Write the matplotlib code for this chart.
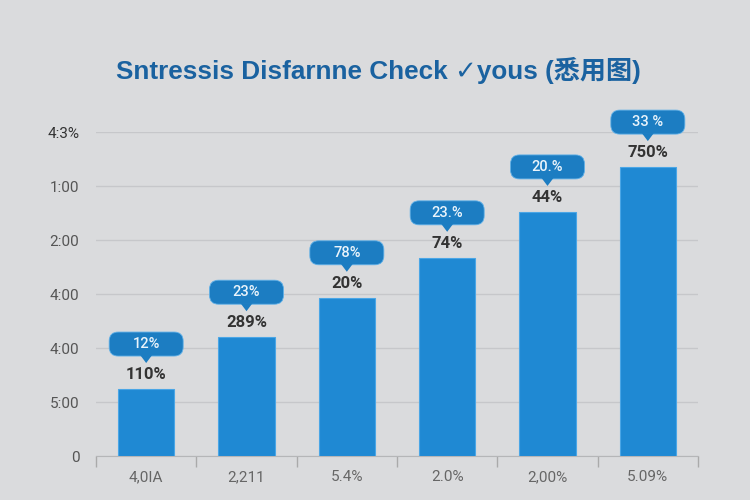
import matplotlib
matplotlib.use("Agg")
import matplotlib.pyplot as plt
from matplotlib import transforms
from matplotlib.patches import FancyBboxPatch, Polygon

# ---- data ----
categories = ["4,0IA", "2,211", "5.4%", "2.0%", "2,00%", "5.09%"]
values = [1.24, 2.20, 2.93, 3.67, 4.52, 5.35]
value_labels = ["110%", "289%", "20%", "74%", "44%", "750%"]
bubble_labels = ["12%", "23%", "78%", "23.%", "20.%", "33 %"]
ytick_vals = [0, 1, 2, 3, 4, 5, 6]
ytick_labels = ["0", "5:00", "4:00", "4:00", "2:00", "1:00", "4:3%"]
title = "Sntressis Disfarnne Check \u2713yous (悉用图)"

BG = "#dadbdd"
BAR = "#1f89d3"
BUBBLE = "#1c7dc2"

fig = plt.figure(figsize=(7.5, 5), dpi=100, facecolor=BG)
ax = fig.add_axes([96/750, 1-456/500, (698-96)/750, (456-132)/500])
ax.set_facecolor(BG)

x = list(range(len(categories)))
ax.bar(x, values, width=0.56, color=BAR, edgecolor="#4aa6e6", linewidth=0.8, zorder=3)

ax.set_xlim(-0.5, len(categories) - 0.5)
ax.set_ylim(0, 6)
ax.set_yticks(ytick_vals)
ax.set_yticklabels(ytick_labels)
ax.yaxis.grid(True, color="#c6c7ca", linewidth=1.0, zorder=0)
ax.tick_params(axis="y", length=0, pad=12, labelsize=11, labelcolor="#555555")
ax.get_yticklabels()[-1].set_color("#333333")

ax.set_xticks([i + 0.5 for i in range(-1, len(categories))], minor=True)
ax.set_xticks(x)
ax.set_xticklabels(categories)
ax.tick_params(axis="x", which="major", length=0, pad=10, labelsize=11, labelcolor="#666666")
ax.tick_params(axis="x", which="minor", length=8, width=1, color="#aaaaaa", direction="out")
for s in ["top", "right", "left"]:
    ax.spines[s].set_visible(False)
ax.spines["bottom"].set_color("#b5b6b8")

for label in ax.get_xticklabels() + ax.get_yticklabels():
    label.set_fontfamily(["Roboto", "DejaVu Sans"])

# labels and bubbles
bw, bh = 0.74, 0.24
for xi, v, vl, bl in zip(x, values, value_labels, bubble_labels):
    trans = fig.dpi_scale_trans + transforms.ScaledTranslation(xi, v, ax.transData)
    ax.text(0, 0.145, vl, transform=trans, ha="center", va="center",
            fontsize=12, fontweight="bold", color="#333333",
            family=["Roboto", "DejaVu Sans"], clip_on=False, zorder=5)
    cy = 0.45
    box = FancyBboxPatch((-bw/2, cy - bh/2), bw, bh,
                         boxstyle="round,pad=0,rounding_size=0.09",
                         transform=trans, facecolor=BUBBLE, edgecolor="#5fb0e8",
                         linewidth=0.6, clip_on=False, zorder=5)
    fig.add_artist(box)
    tri = Polygon([(-0.06, cy - bh/2 + 0.01), (0.06, cy - bh/2 + 0.01), (0, cy - bh/2 - 0.07)],
                  closed=True, transform=trans, facecolor=BUBBLE, edgecolor="none",
                  clip_on=False, zorder=6)
    fig.add_artist(tri)
    fig.text(0, cy, bl, transform=trans, ha="center", va="center",
             fontsize=10.5, fontweight="medium", color="#eaf4fb",
             family=["Roboto", "DejaVu Sans"], zorder=7)

fig.text(378/750, 1-70/500, title, ha="center", va="center", fontsize=18.8,
         fontweight="bold", color="#1a62a0",
         family=["Liberation Sans", "DejaVu Sans", "Noto Sans CJK SC"])

fig.savefig("out.png", dpi=100, facecolor=BG)
